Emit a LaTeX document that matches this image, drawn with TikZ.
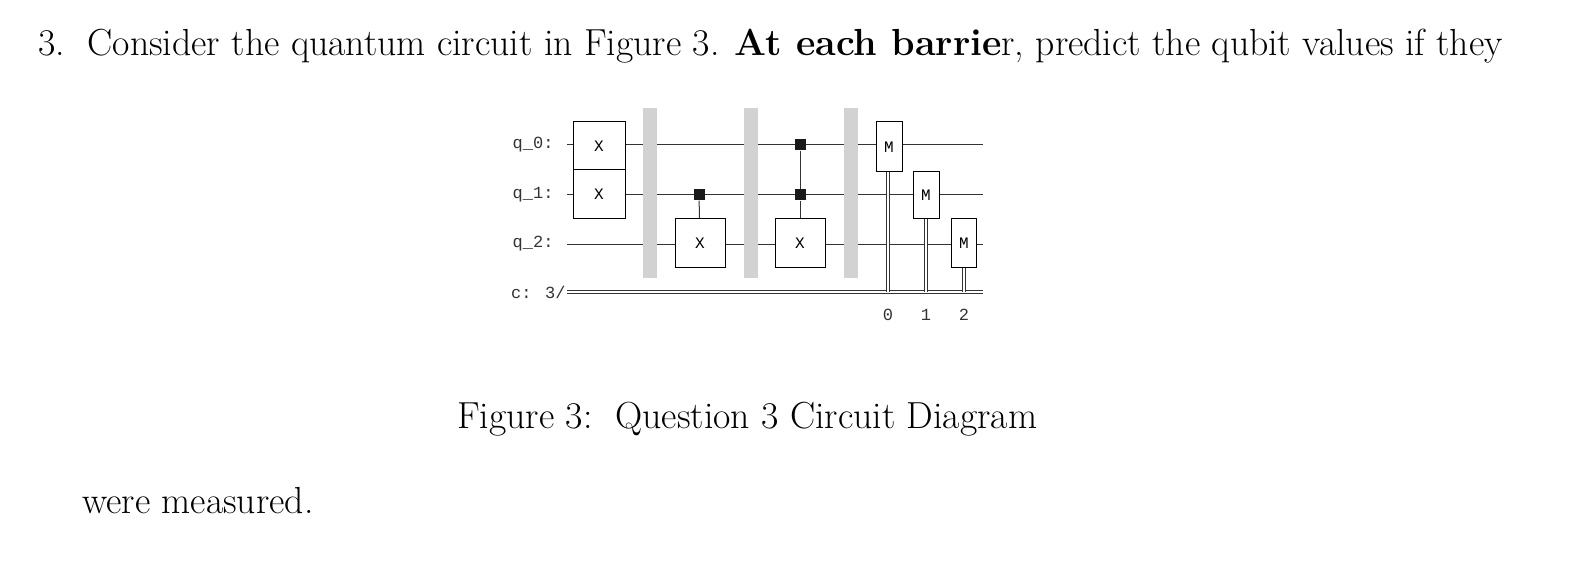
\documentclass[tikz,border=0pt]{standalone}
\usepackage{fontspec}
\newfontfamily\cmono{Liberation Mono}
\begin{document}
\begin{tikzpicture}[x=1pt,y=-1pt,
  wire/.style={line width=1pt,black!80},
  gatebox/.style={draw,line width=1pt,fill=white,inner sep=0pt,font=\cmono\fontsize{16}{16}\selectfont},
  barrierbar/.style={fill=gray!35,draw=none},
  ctrl/.style={fill=black!90,minimum size=11pt,inner sep=0pt},
  lbl/.style={font=\cmono\fontsize{17}{17}\selectfont,anchor=east,text=black!80},
  ctext/.style={font=\fontsize{37.7}{42}\selectfont}]
\useasboundingbox (0,0) rectangle (1584,564);
% text
\node[ctext,anchor=base west,inner sep=0pt] (t1) at (38,56) {3.\ \ Consider the quantum circuit in Figure 3. \textbf{At each barrie}r, predict the qubit values if they};
\node[ctext,anchor=base west,inner sep=0pt] (t2) at (82,513) {were measured.};
\node[ctext,anchor=base west,inner sep=0pt] (cap) at (457,428) {Figure 3:\ \ Question 3 Circuit Diagram};
% labels
\node[lbl] (l0) at (557,145) {q\_0:};
\node[lbl] (l1) at (557,195) {q\_1:};
\node[lbl] (l2) at (557,244) {q\_2:};
\node[lbl] (lc) at (569,292) {c: 3/};
% wires
\coordinate (w0s) at (567,145); \coordinate (w0e) at (983,145);
\coordinate (w1s) at (567,195); \coordinate (w1e) at (983,195);
\coordinate (w2s) at (567,244); \coordinate (w2e) at (983,244);
\draw[wire] (w0s) -- (w0e);
\draw[wire] (w1s) -- (w1e);
\draw[wire] (w2s) -- (w2e);
\coordinate (cs) at (567,292); \coordinate (ce) at (983,292);
\draw[wire,double=white,double distance=1.5pt,line width=0.9pt] (cs) -- (ce);
% barriers
\foreach \x in {643,744,844}{\fill[barrierbar] (\x,108) rectangle (\x+14,278);}
% X gates
\node[gatebox,minimum width=52pt,minimum height=48pt] (x0) at (599,146) {X};
\node[gatebox,minimum width=52pt,minimum height=48pt] (x1) at (599,194) {X};
% CX
\node[ctrl] (c1) at (699,195) {};
\node[gatebox,minimum width=50pt,minimum height=49pt] (x2) at (700,243) {X};
\draw[wire] (c1) -- (x2);
% CCX
\node[ctrl] (c2a) at (800,145) {};
\node[ctrl] (c2b) at (800,195) {};
\node[gatebox,minimum width=50pt,minimum height=49pt] (x3) at (800,243) {X};
\draw[wire] (c2a) -- (c2b); \draw[wire] (c2b) -- (x3);
% measurements
\coordinate (m0c) at (888,292); \coordinate (m1c) at (926,292); \coordinate (m2c) at (964,292);
\draw[wire,double=white,double distance=1.5pt,line width=0.9pt] (888,172) -- (m0c);
\draw[wire,double=white,double distance=1.5pt,line width=0.9pt] (926,218) -- (m1c);
\draw[wire,double=white,double distance=1.5pt,line width=0.9pt] (964,267) -- (m2c);
\node[gatebox,minimum width=26pt,minimum height=50pt] (m0) at (889,147) {M};
\node[gatebox,minimum width=26pt,minimum height=47pt] (m1) at (926,195) {M};
\node[gatebox,minimum width=25pt,minimum height=49pt] (m2) at (964,243) {M};
\node[font=\cmono\fontsize{17}{17}\selectfont,text=black!80] (n0) at (888,315) {0};
\node[font=\cmono\fontsize{17}{17}\selectfont,text=black!80] (n1) at (926,315) {1};
\node[font=\cmono\fontsize{17}{17}\selectfont,text=black!80] (n2) at (964,315) {2};
\end{tikzpicture}
\end{document}
